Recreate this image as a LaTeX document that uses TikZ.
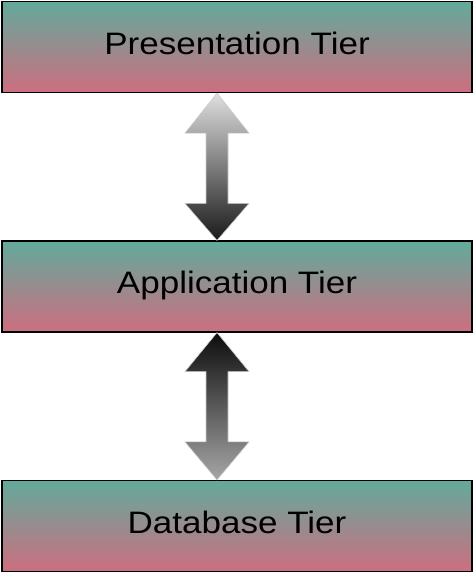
\documentclass[tikz,border=0pt]{standalone}
\usepackage{fontspec}
\setmainfont{Liberation Sans}
\usetikzlibrary{calc}
\definecolor{tealtop}{HTML}{62AA9B}
\definecolor{pinkbot}{HTML}{CD6E80}
\newcommand{\tiertext}[1]{\scalebox{1.13}[1]{#1}}
\begin{document}
\begin{tikzpicture}[x=1pt,y=-1pt,
  tier/.style={draw=black, line width=1.2pt, top color=tealtop, bottom color=pinkbot,
    minimum width=470pt, minimum height=91pt, inner sep=0pt,
    text height=22pt, text depth=8pt, font=\fontsize{31}{34}\selectfont, text=black},
  lightdark/.style={draw=gray!40, line width=0.6pt, top color=gray!25, bottom color=black!90},
  darklight/.style={draw=gray!40, line width=0.6pt, top color=black!95, bottom color=gray!70}]
\useasboundingbox (0,0) rectangle (474,579);
\fill[white] (0,0) rectangle (474,579);
\node[tier] (pres) at (237,47) {\tiertext{Presentation Tier}};
\node[tier] (app)  at (237,286.5) {\tiertext{Application Tier}};
\node[tier] (db)   at (237,526) {\tiertext{Database Tier}};
% arrow between presentation and application
\coordinate (a1t) at ([xshift=-20pt]pres.south);
\coordinate (a1b) at ([xshift=-20pt]app.north);
\shade[lightdark] (a1t) -- ($(a1t)+(32,40)$) -- ($(a1t)+(11,40)$) -- ($(a1b)+(11,-37)$)
  -- ($(a1b)+(32,-37)$) -- (a1b) -- ($(a1b)+(-32,-37)$) -- ($(a1b)+(-11,-37)$)
  -- ($(a1t)+(-11,40)$) -- ($(a1t)+(-32,40)$) -- cycle;
% arrow between application and database
\coordinate (a2t) at ([xshift=-20pt]app.south);
\coordinate (a2b) at ([xshift=-20pt]db.north);
\shade[darklight] (a2t) -- ($(a2t)+(32,39)$) -- ($(a2t)+(11,39)$) -- ($(a2b)+(11,-38)$)
  -- ($(a2b)+(32,-38)$) -- (a2b) -- ($(a2b)+(-32,-38)$) -- ($(a2b)+(-11,-38)$)
  -- ($(a2t)+(-11,39)$) -- ($(a2t)+(-32,39)$) -- cycle;
\end{tikzpicture}
\end{document}
